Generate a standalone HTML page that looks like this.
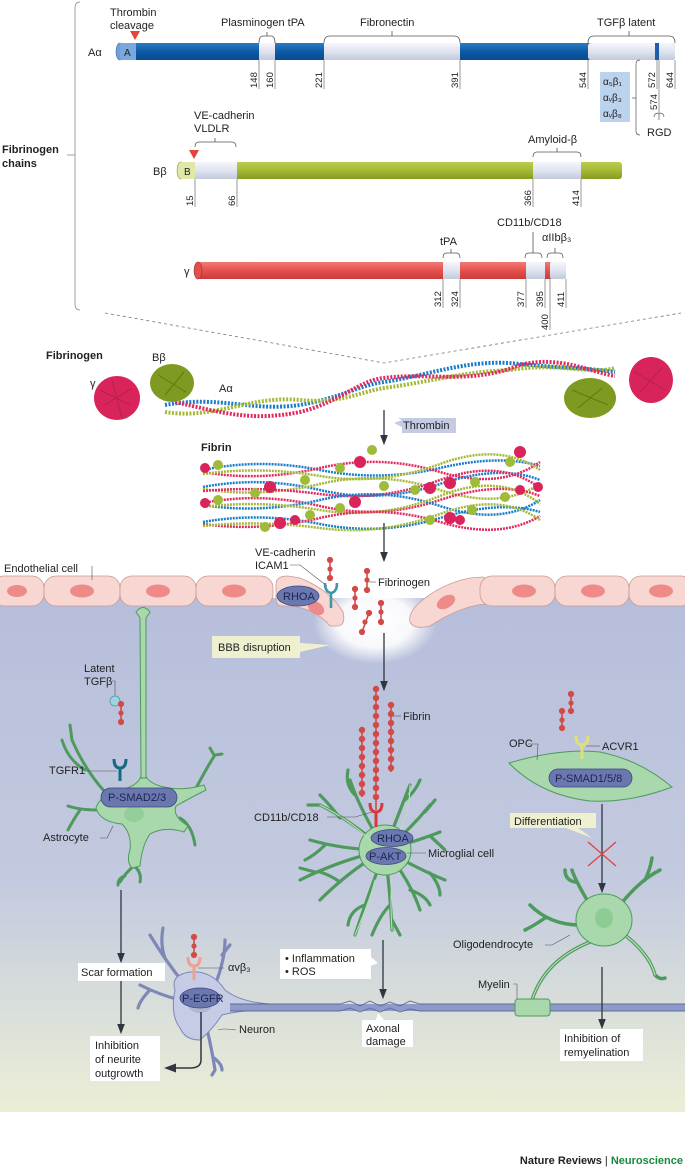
<!DOCTYPE html>
<html><head><meta charset="utf-8"><style>
html,body{margin:0;padding:0;background:#fff}
svg{display:block}
text{font-family:"Liberation Sans",sans-serif;font-size:11px;fill:#222}
.b{font-weight:bold}
.n{font-size:9.5px}
</style></head><body>
<svg width="685" height="1168" viewBox="0 0 685 1168" xmlns="http://www.w3.org/2000/svg">
<defs>
<linearGradient id="bg" x1="0" y1="0" x2="0" y2="1">
<stop offset="0" stop-color="#b6bedb"/><stop offset="0.55" stop-color="#c3cadf"/><stop offset="1" stop-color="#ebefd6"/>
</linearGradient>
<radialGradient id="glow"><stop offset="0" stop-color="#fff"/><stop offset="0.6" stop-color="#fff" stop-opacity="0.9"/><stop offset="1" stop-color="#fff" stop-opacity="0"/></radialGradient>
<linearGradient id="blue" x1="0" y1="0" x2="0" y2="1"><stop offset="0" stop-color="#2a7cc4"/><stop offset="0.5" stop-color="#0d5aa6"/><stop offset="1" stop-color="#0a4a8c"/></linearGradient>
<linearGradient id="grn" x1="0" y1="0" x2="0" y2="1"><stop offset="0" stop-color="#bccd4f"/><stop offset="0.5" stop-color="#a6b834"/><stop offset="1" stop-color="#889a22"/></linearGradient>
<linearGradient id="red" x1="0" y1="0" x2="0" y2="1"><stop offset="0" stop-color="#f07a76"/><stop offset="0.5" stop-color="#e6504d"/><stop offset="1" stop-color="#c83c3a"/></linearGradient>
<linearGradient id="wht" x1="0" y1="0" x2="0" y2="1"><stop offset="0" stop-color="#f4f6fb"/><stop offset="0.5" stop-color="#dfe4f0"/><stop offset="1" stop-color="#c2c9dc"/></linearGradient>
<marker id="ar" markerWidth="8" markerHeight="8" refX="4" refY="4" orient="auto"><path d="M0,1 L8,4 L0,7 Z" fill="#2f3640"/></marker>
</defs>

<!-- big bracket -->
<path d="M80,2 Q75,2 75,8 L75,304 Q75,310 80,310" fill="none" stroke="#888" stroke-width="0.8"/>
<line x1="67" y1="155" x2="75" y2="155" stroke="#888" stroke-width="0.8"/>
<text x="2" y="153" class="b">Fibrinogen</text><text x="2" y="167" class="b">chains</text>

<!-- A alpha -->
<text x="88" y="56">Aα</text>
<text x="110" y="16">Thrombin</text><text x="110" y="29">cleavage</text>
<path d="M130,31 L140,31 L135,40 Z" fill="#e8403a"/>
<rect x="119" y="43" width="556" height="17" rx="3" fill="url(#blue)"/>
<ellipse cx="120" cy="51.5" rx="4" ry="8.5" fill="#6fa0d8" stroke="#3a6aa0" stroke-width="0.6"/>
<rect x="120" y="43" width="16" height="17" fill="#7aa8dc"/>
<text x="124" y="56" style="font-size:10px">A</text>
<rect x="259" y="43" width="16" height="17" fill="url(#wht)"/>
<rect x="324" y="43" width="136" height="17" fill="url(#wht)"/>
<rect x="588" y="43" width="87" height="17" rx="3" fill="url(#wht)"/>
<rect x="655" y="43" width="4" height="17" fill="#1b5fa8"/>
<g fill="none" stroke="#555" stroke-width="0.8">
<path d="M259,43 Q259,36 263,36 L271,36 Q275,36 275,43 M267,36 L267,32"/>
<path d="M324,43 Q324,36 330,36 L454,36 Q460,36 460,43 M392,36 L392,31"/>
<path d="M588,43 Q588,36 594,36 L669,36 Q675,36 675,43 M629,36 L629,31"/>
</g>
<text x="221" y="26">Plasminogen tPA</text>
<text x="360" y="26">Fibronectin</text>
<text x="597" y="26">TGFβ latent</text>
<g stroke="#555" stroke-width="0.6">
<line x1="259" y1="60" x2="259" y2="89"/><line x1="275" y1="60" x2="275" y2="89"/>
<line x1="324" y1="60" x2="324" y2="89"/><line x1="460" y1="60" x2="460" y2="89"/>
<line x1="588" y1="60" x2="588" y2="89"/><line x1="657" y1="60" x2="657" y2="89"/><line x1="675" y1="60" x2="675" y2="89"/>
<line x1="659" y1="60" x2="659" y2="112"/>
</g>
<text transform="translate(257,88) rotate(-90)" class="n">148</text>
<text transform="translate(273,88) rotate(-90)" class="n">160</text>
<text transform="translate(322,88) rotate(-90)" class="n">221</text>
<text transform="translate(458,88) rotate(-90)" class="n">391</text>
<text transform="translate(586,88) rotate(-90)" class="n">544</text>
<text transform="translate(655,88) rotate(-90)" class="n">572</text>
<text transform="translate(673,88) rotate(-90)" class="n">644</text>
<text transform="translate(657,110) rotate(-90)" class="n">574</text>
<rect x="600" y="72" width="30" height="50" fill="#bcd3ee"/>
<text x="603" y="85" style="font-size:10px">α₅β₁</text>
<text x="603" y="101" style="font-size:10px">αᵥβ₃</text>
<text x="603" y="117" style="font-size:10px">αᵥβ₈</text>
<path d="M640,60 Q636,60 636,64 L636,131 Q636,135 640,135 M636,98 L632,98" fill="none" stroke="#555" stroke-width="0.7"/>
<path d="M654,117 Q654,113 659,113 Q664,113 664,117 M659,113 L659,120" fill="none" stroke="#555" stroke-width="0.7"/>
<text x="647" y="136">RGD</text>

<!-- B beta -->
<text x="153" y="175">Bβ</text>
<text x="194" y="119">VE-cadherin</text><text x="194" y="132">VLDLR</text>
<path d="M195,147 Q195,142 199,142 L232,142 Q236,142 236,147 M215,142 L215,138" fill="none" stroke="#555" stroke-width="0.8"/>
<path d="M189,150 L199,150 L194,159 Z" fill="#e8403a"/>
<rect x="180" y="162" width="442" height="17" rx="3" fill="url(#grn)"/>
<ellipse cx="181" cy="170.5" rx="4" ry="8.5" fill="#e2e6a6" stroke="#8a9040" stroke-width="0.6"/>
<rect x="181" y="162" width="14" height="17" fill="#e2e6a6"/>
<text x="184" y="175" style="font-size:10px">B</text>
<rect x="195" y="162" width="42" height="17" fill="url(#wht)"/>
<rect x="533" y="162" width="48" height="17" fill="url(#wht)"/>
<path d="M533,157 Q533,152 537,152 L577,152 Q581,152 581,157 M557,152 L557,148" fill="none" stroke="#555" stroke-width="0.8"/>
<text x="528" y="143">Amyloid-β</text>
<g stroke="#555" stroke-width="0.6">
<line x1="195" y1="179" x2="195" y2="207"/><line x1="237" y1="179" x2="237" y2="207"/>
<line x1="533" y1="179" x2="533" y2="207"/><line x1="581" y1="179" x2="581" y2="207"/>
</g>
<text transform="translate(193,206) rotate(-90)" class="n">15</text>
<text transform="translate(235,206) rotate(-90)" class="n">66</text>
<text transform="translate(531,206) rotate(-90)" class="n">366</text>
<text transform="translate(579,206) rotate(-90)" class="n">414</text>

<!-- gamma -->
<text x="184" y="275">γ</text>
<rect x="197" y="262" width="369" height="17" rx="3" fill="url(#red)"/>
<ellipse cx="198" cy="270.5" rx="4" ry="8.5" fill="#e0504c" stroke="#a03030" stroke-width="0.6"/>
<rect x="443" y="262" width="17" height="17" fill="url(#wht)"/>
<rect x="526" y="262" width="19" height="17" fill="url(#wht)"/>
<rect x="550" y="262" width="16" height="17" rx="2" fill="url(#wht)"/>
<path d="M443,258 Q443,253 447,253 L456,253 Q460,253 460,258 M451,253 L451,249" fill="none" stroke="#555" stroke-width="0.8"/>
<path d="M525,258 Q525,253 529,253 L538,253 Q542,253 542,258 M533,253 L533,232" fill="none" stroke="#555" stroke-width="0.8"/>
<path d="M547,258 Q547,253 551,253 L559,253 Q563,253 563,258 M555,253 L555,248" fill="none" stroke="#555" stroke-width="0.8"/>
<text x="440" y="245">tPA</text>
<text x="497" y="226">CD11b/CD18</text>
<text x="542" y="241">αIIbβ₃</text>
<g stroke="#555" stroke-width="0.6">
<line x1="443" y1="279" x2="443" y2="308"/><line x1="460" y1="279" x2="460" y2="308"/>
<line x1="526" y1="279" x2="526" y2="308"/><line x1="545" y1="279" x2="545" y2="308"/>
<line x1="550" y1="279" x2="550" y2="330"/><line x1="566" y1="279" x2="566" y2="308"/>
</g>
<text transform="translate(441,307) rotate(-90)" class="n">312</text>
<text transform="translate(458,307) rotate(-90)" class="n">324</text>
<text transform="translate(524,307) rotate(-90)" class="n">377</text>
<text transform="translate(543,307) rotate(-90)" class="n">395</text>
<text transform="translate(548,330) rotate(-90)" class="n">400</text>
<text transform="translate(564,307) rotate(-90)" class="n">411</text>

<!-- dashed zoom lines -->
<path d="M105,313 L384,363 L681,313" fill="none" stroke="#777" stroke-width="0.8" stroke-dasharray="3,3"/>

<!-- fibrinogen molecule -->
<text x="46" y="359" class="b">Fibrinogen</text>
<text x="152" y="361">Bβ</text>
<text x="90" y="387">γ</text>
<text x="219" y="392">Aα</text>
<g fill="none" stroke-width="4" stroke-dasharray="2,1.5">
<path d="M165,405 C220,395 250,412 300,405 C340,398 360,385 384,382 C430,375 470,358 520,364 C560,368 590,368 615,372" stroke="#1a7cc9"/>
<path d="M165,412 C215,420 250,395 300,400 C340,404 360,392 384,388 C430,382 460,372 510,370 C560,362 590,375 615,368" stroke="#a4b836"/>
<path d="M175,402 C220,412 250,422 300,412 C340,402 360,380 384,378 C430,372 470,385 520,365 C560,355 590,372 615,376" stroke="#e0295f"/>
</g>
<g fill="#d8245a"><ellipse cx="117" cy="398" rx="23" ry="22"/><ellipse cx="651" cy="380" rx="22" ry="23"/></g>
<g fill="#7e9a20"><ellipse cx="172" cy="383" rx="22" ry="19"/><ellipse cx="590" cy="398" rx="26" ry="20"/></g>
<g fill="none" stroke="#b92048" stroke-width="1"><path d="M100,390 L130,405 M105,405 L132,388 M112,380 L122,418"/><path d="M635,372 L665,390 M640,392 L662,368"/></g>
<g fill="none" stroke="#5f7a12" stroke-width="1"><path d="M158,375 L186,392 M165,395 L184,372"/><path d="M572,390 L608,405 M578,408 L602,388"/></g>

<!-- thrombin arrow -->
<line x1="384" y1="410" x2="384" y2="440" stroke="#2f3640" stroke-width="1.3" marker-end="url(#ar)"/>
<path d="M398,418 L456,418 L456,433 L402,433 L402,427 L394,423 L402,420 Z" fill="#c4cbe3"/>
<text x="403" y="429">Thrombin</text>

<!-- fibrin -->
<text x="201" y="451" class="b">Fibrin</text>
<g fill="none" stroke-width="2.5" stroke-dasharray="2,1">
<path d="M203,470 Q260,458 320,470 T440,468 T540,466" stroke="#1a7cc9"/>
<path d="M203,472 Q260,482 320,468 T440,472 T540,462" stroke="#e0295f"/>
<path d="M203,474 Q260,466 320,476 T440,464 T540,470" stroke="#a4b836"/>
<path d="M203,487 Q260,476 320,490 T440,484 T540,480" stroke="#1a7cc9"/>
<path d="M203,489 Q260,498 320,484 T440,490 T540,484" stroke="#a4b836"/>
<path d="M203,491 Q260,486 320,494 T440,480 T540,488" stroke="#e0295f"/>
<path d="M203,503 Q260,492 320,506 T440,500 T540,496" stroke="#e0295f"/>
<path d="M203,505 Q260,514 320,500 T440,506 T540,500" stroke="#1a7cc9"/>
<path d="M203,507 Q260,500 320,510 T440,496 T540,504" stroke="#a4b836"/>
<path d="M203,522 Q260,512 320,524 T440,518 T540,512" stroke="#1a7cc9"/>
<path d="M203,524 Q260,532 320,518 T440,522 T540,516" stroke="#e0295f"/>
<path d="M203,526 Q260,520 320,528 T440,514 T540,520" stroke="#a4b836"/>
</g>
<g fill="#d8245a">
<circle cx="205" cy="468" r="5"/><circle cx="360" cy="462" r="6"/><circle cx="520" cy="452" r="6"/>
<circle cx="270" cy="487" r="6"/><circle cx="430" cy="488" r="6"/><circle cx="450" cy="483" r="6"/><circle cx="538" cy="487" r="5"/>
<circle cx="205" cy="503" r="5"/><circle cx="355" cy="502" r="6"/><circle cx="520" cy="490" r="5"/>
<circle cx="280" cy="523" r="6"/><circle cx="295" cy="520" r="5"/><circle cx="450" cy="518" r="6"/><circle cx="460" cy="520" r="5"/>
</g>
<g fill="#9fbb3a">
<circle cx="218" cy="465" r="5"/><circle cx="340" cy="468" r="5"/><circle cx="372" cy="450" r="5"/><circle cx="510" cy="462" r="5"/>
<circle cx="255" cy="493" r="5"/><circle cx="305" cy="480" r="5"/><circle cx="415" cy="490" r="5"/><circle cx="475" cy="482" r="5"/>
<circle cx="218" cy="500" r="5"/><circle cx="340" cy="508" r="5"/><circle cx="384" cy="486" r="5"/><circle cx="505" cy="497" r="5"/>
<circle cx="265" cy="527" r="5"/><circle cx="310" cy="515" r="5"/><circle cx="430" cy="520" r="5"/><circle cx="472" cy="510" r="5"/>
</g>
<line x1="384" y1="523" x2="384" y2="557" stroke="#2f3640" stroke-width="1.3" marker-end="url(#ar)"/>

<!-- tissue background -->
<rect x="0" y="598" width="685" height="514" fill="url(#bg)"/>
<ellipse cx="375" cy="622" rx="62" ry="42" fill="url(#glow)"/>

<!-- endothelial cells -->
<g fill="#f8d6d1" stroke="#c79a96" stroke-width="0.8">
<rect x="-8" y="576" width="52" height="30" rx="12"/>
<rect x="44" y="576" width="76" height="30" rx="12"/>
<rect x="120" y="576" width="76" height="30" rx="12"/>
<rect x="196" y="576" width="77" height="30" rx="12"/>
<path d="M276,584 Q276,576 288,576 L300,578 Q330,590 343,612 Q346,625 338,626 L330,626 Q315,608 290,606 L282,606 Q276,606 276,598 Z"/>
<path d="M410,622 Q408,614 418,604 Q440,584 470,578 L483,577 Q488,580 487,592 L486,604 Q460,606 430,626 Q414,630 410,622 Z"/>
<rect x="480" y="576" width="75" height="30" rx="12"/>
<rect x="555" y="576" width="74" height="30" rx="12"/>
<rect x="629" y="576" width="64" height="30" rx="12"/>
</g>
<g fill="#ee8b88">
<ellipse cx="17" cy="591" rx="10" ry="6"/><ellipse cx="82" cy="591" rx="12" ry="6.5"/><ellipse cx="158" cy="591" rx="12" ry="6.5"/><ellipse cx="234" cy="591" rx="12" ry="6.5"/>
<ellipse cx="316" cy="608" rx="9" ry="6" transform="rotate(35 316 608)"/><ellipse cx="446" cy="602" rx="10" ry="6" transform="rotate(-30 446 602)"/>
<ellipse cx="524" cy="591" rx="12" ry="6.5"/><ellipse cx="593" cy="591" rx="12" ry="6.5"/><ellipse cx="661" cy="591" rx="12" ry="6.5"/>
</g>
<text x="4" y="572">Endothelial cell</text>
<line x1="92" y1="566" x2="92" y2="580" stroke="#555" stroke-width="0.6"/>
<ellipse cx="298" cy="596" rx="21" ry="10" fill="#6b78b0" stroke="#3d4880" stroke-width="0.8"/>
<text x="283" y="600" style="fill:#1d2450">RHOA</text>
<text x="255" y="556">VE-cadherin</text><text x="255" y="569">ICAM1</text>
<path d="M290,565 L300,565 L327,586" fill="none" stroke="#555" stroke-width="0.6"/>
<path d="M331,608 L331,593 M325,583 Q325,592 331,593 Q337,592 337,583" fill="none" stroke="#3e96aa" stroke-width="2.6"/>
<g stroke="#d24a48" stroke-width="1.6" fill="#d24a48">
<line x1="330" y1="560" x2="330" y2="578"/><circle cx="330" cy="560" r="2.3"/><circle cx="330" cy="569" r="1.8"/><circle cx="330" cy="578" r="2.3"/>
<line x1="367" y1="571" x2="367" y2="590"/><circle cx="367" cy="571" r="2.3"/><circle cx="367" cy="580" r="1.8"/><circle cx="367" cy="590" r="2.3"/>
<line x1="355" y1="589" x2="355" y2="607"/><circle cx="355" cy="589" r="2.3"/><circle cx="355" cy="598" r="1.8"/><circle cx="355" cy="607" r="2.3"/>
<line x1="381" y1="603" x2="381" y2="622"/><circle cx="381" cy="603" r="2.3"/><circle cx="381" cy="612" r="1.8"/><circle cx="381" cy="622" r="2.3"/>
<line x1="369" y1="613" x2="362" y2="632"/><circle cx="369" cy="613" r="2.3"/><circle cx="365" cy="622" r="1.8"/><circle cx="362" cy="632" r="2.3"/>
</g>
<path d="M369,582 L376,582" stroke="#555" stroke-width="0.6"/>
<text x="378" y="586">Fibrinogen</text>
<path d="M212,636 L300,636 L300,643 L330,645 L300,652 L300,658 L212,658 Z" fill="#eef0cf"/>
<text x="218" y="651">BBB disruption</text>
<line x1="384" y1="633" x2="384" y2="686" stroke="#2f3640" stroke-width="1.3" marker-end="url(#ar)"/>

<!-- astrocyte -->
<g fill="none" stroke="#4e9a5c" stroke-width="3" stroke-linecap="round">
<path d="M105,792 Q85,770 72,740 M85,770 Q68,760 62,740 M72,740 L70,725"/>
<path d="M195,790 Q210,762 215,755 L222,754 M214,755 L210,748"/>
<path d="M180,818 Q192,825 195,845"/>
<path d="M98,810 Q80,810 68,806 M80,810 Q72,822 68,830"/>
<path d="M134,866 Q126,872 120,882 M134,866 Q142,872 140,882 M125,876 Q118,878 118,885"/>
</g>
<path d="M141,776 Q138,786 120,790 Q100,795 96,808 Q100,822 122,824 Q132,834 130,850 Q126,862 132,868 L140,866 Q142,845 150,834 Q165,826 184,832 L188,826 Q172,816 176,806 Q190,798 206,790 L204,785 Q180,792 160,786 Q148,782 146,776 Z" fill="#a8d8ab" stroke="#4e9a5c" stroke-width="1"/>
<path d="M136,612 Q143,603 150,612 L146,618 L146,778 L141,778 L140,618 Z" fill="#a8d8ab" stroke="#4e9a5c" stroke-width="1"/>
<ellipse cx="134" cy="814" rx="10" ry="8" fill="#8fcc95" opacity="0.8"/>
<rect x="101" y="788" width="76" height="19" rx="9.5" fill="#6b78b0" stroke="#3d4880" stroke-width="0.8"/>
<text x="108" y="801" style="fill:#1d2450">P-SMAD2/3</text>
<path d="M120,781 L120,768 M114,759 Q114,768 120,768 Q126,768 126,759" fill="none" stroke="#156a80" stroke-width="3"/>
<line x1="87" y1="771" x2="117" y2="771" stroke="#555" stroke-width="0.6"/>
<text x="49" y="774">TGFR1</text>
<text x="84" y="672">Latent</text><text x="84" y="685">TGFβ</text>
<path d="M112,681 L115,681 L115,697" fill="none" stroke="#555" stroke-width="0.6"/>
<circle cx="115" cy="701" r="5" fill="#9fd3e0" stroke="#4a9ab0" stroke-width="0.8"/>
<g stroke="#d24a48" stroke-width="1.6" fill="#d24a48"><line x1="121" y1="704" x2="121" y2="722"/><circle cx="121" cy="704" r="2.3"/><circle cx="121" cy="713" r="1.8"/><circle cx="121" cy="722" r="2.3"/></g>
<text x="43" y="841">Astrocyte</text>
<path d="M100,838 L107,838 L113,826" fill="none" stroke="#555" stroke-width="0.6"/>
<line x1="121" y1="890" x2="121" y2="958" stroke="#2f3640" stroke-width="1.3" marker-end="url(#ar)"/>
<rect x="78" y="963" width="87" height="18" fill="#fff"/>
<text x="81" y="976">Scar formation</text>
<line x1="121" y1="981" x2="121" y2="1029" stroke="#2f3640" stroke-width="1.3" marker-end="url(#ar)"/>
<rect x="90" y="1036" width="70" height="45" fill="#fff"/>
<text x="95" y="1049">Inhibition</text><text x="95" y="1063">of neurite</text><text x="95" y="1077">outgrowth</text>

<!-- microglia -->
<g fill="none" stroke="#4e9a5c" stroke-width="3.2" stroke-linecap="round">
<path d="M385,850 Q350,820 320,805 M340,818 Q330,805 320,795 M320,805 L308,805"/>
<path d="M385,850 Q360,810 350,780 M355,795 Q345,785 348,770"/>
<path d="M385,850 Q400,810 410,785 M405,800 Q415,792 420,780"/>
<path d="M385,850 Q410,830 430,805 M425,812 L435,800"/>
<path d="M385,850 Q420,840 440,832 M430,836 Q440,845 445,850"/>
<path d="M385,850 Q420,870 445,880 M430,873 Q440,885 440,895"/>
<path d="M385,850 Q410,880 420,910 M410,890 Q425,895 430,905"/>
<path d="M385,850 Q390,890 392,930 M390,905 Q380,915 372,935 M392,920 L400,935"/>
<path d="M385,850 Q370,890 355,935 M365,905 Q350,910 348,925"/>
<path d="M385,850 Q350,870 320,900 M340,882 Q330,875 320,872"/>
<path d="M385,850 Q345,850 310,840 M325,845 Q315,855 305,860"/>
<path d="M385,850 Q340,860 300,880 M315,872 L300,868"/>
</g>
<ellipse cx="385" cy="850" rx="26" ry="25" fill="#a8d8ab" stroke="#4e9a5c" stroke-width="1"/>
<g fill="none" stroke="#b7e0b8" stroke-width="1.1" stroke-linecap="round">
<path d="M370,840 Q350,820 320,805"/><path d="M392,880 Q390,900 392,930"/><path d="M375,880 Q370,900 355,935"/><path d="M400,830 Q410,810 410,785"/>
</g>
<g stroke="#d24a48" stroke-width="1.6" fill="#d24a48">
<line x1="362" y1="730" x2="362" y2="797"/>
<circle cx="362" cy="730" r="2.4"/><circle cx="362" cy="739" r="2.4"/><circle cx="362" cy="748" r="2.4"/><circle cx="362" cy="757" r="2.4"/><circle cx="362" cy="766" r="2.4"/><circle cx="362" cy="775" r="2.4"/><circle cx="362" cy="784" r="2.4"/><circle cx="362" cy="793" r="2.4"/>
<line x1="376" y1="689" x2="376" y2="810"/>
<circle cx="376" cy="689" r="2.4"/><circle cx="376" cy="698" r="2.4"/><circle cx="376" cy="707" r="2.4"/><circle cx="376" cy="716" r="2.4"/><circle cx="376" cy="725" r="2.4"/><circle cx="376" cy="734" r="2.4"/><circle cx="376" cy="743" r="2.4"/><circle cx="376" cy="752" r="2.4"/><circle cx="376" cy="761" r="2.4"/><circle cx="376" cy="770" r="2.4"/><circle cx="376" cy="779" r="2.4"/><circle cx="376" cy="788" r="2.4"/><circle cx="376" cy="797" r="2.4"/>
<line x1="391" y1="705" x2="391" y2="772"/>
<circle cx="391" cy="705" r="2.4"/><circle cx="391" cy="714" r="2.4"/><circle cx="391" cy="723" r="2.4"/><circle cx="391" cy="732" r="2.4"/><circle cx="391" cy="741" r="2.4"/><circle cx="391" cy="750" r="2.4"/><circle cx="391" cy="759" r="2.4"/><circle cx="391" cy="768" r="2.4"/>
</g>
<path d="M393,716 L401,716" stroke="#555" stroke-width="0.6"/>
<text x="403" y="720">Fibrin</text>
<path d="M376,827 L376,812 M370,803 Q370,812 376,812 Q382,812 382,803" fill="none" stroke="#d43a3a" stroke-width="3"/>
<text x="254" y="821">CD11b/CD18</text>
<path d="M327,817 L355,817 L372,812" fill="none" stroke="#555" stroke-width="0.6"/>
<ellipse cx="392" cy="838" rx="21" ry="8.5" fill="#6b78b0" stroke="#3d4880" stroke-width="0.8"/>
<text x="377" y="842" style="fill:#1d2450">RHOA</text>
<ellipse cx="386" cy="856" rx="20" ry="8.5" fill="#6b78b0" stroke="#3d4880" stroke-width="0.8"/>
<text x="369" y="860" style="fill:#1d2450">P-AKT</text>
<line x1="407" y1="853" x2="426" y2="853" stroke="#555" stroke-width="0.6"/>
<text x="428" y="857">Microglial cell</text>
<line x1="383" y1="940" x2="383" y2="994" stroke="#2f3640" stroke-width="1.3" marker-end="url(#ar)"/>
<path d="M280,949 L371,949 L371,957 L378,963 L371,966 L371,979 L280,979 Z" fill="#fff"/>
<text x="285" y="962">• Inflammation</text><text x="285" y="975">• ROS</text>

<!-- neuron -->
<g fill="none" stroke="#7d88b8" stroke-width="3.2" stroke-linecap="round">
<path d="M185,985 Q165,960 150,935 M165,958 Q160,945 163,928"/>
<path d="M215,985 Q225,960 225,940 M222,955 L230,945"/>
<path d="M180,1000 Q160,995 140,985 M150,990 Q140,1000 138,1008"/>
<path d="M205,1020 Q212,1050 215,1070 M214,1058 Q222,1064 222,1070 M215,1070 L212,1075"/>
</g>
<path d="M175,990 Q170,975 190,972 Q212,970 225,990 Q240,1002 270,1004 L270,1010 Q240,1010 222,1015 Q212,1030 200,1040 Q185,1040 180,1028 Q170,1015 175,990 Z" fill="#c6cbe6" stroke="#7d88b8" stroke-width="1"/>
<rect x="230" y="1004" width="455" height="7" fill="#8f9ac8"/>
<path d="M230,1004 L340,1004 L350,1001 L360,1006 L370,1001 L380,1006 L390,1002 L400,1006 L410,1001 L420,1004 L685,1004" fill="none" stroke="#5c6a9c" stroke-width="0.9"/>
<path d="M230,1011 L340,1011 L350,1008 L360,1012 L370,1008 L380,1012 L390,1008 L400,1012 L410,1009 L420,1011 L685,1011" fill="none" stroke="#5c6a9c" stroke-width="0.9"/>
<ellipse cx="200" cy="1005" rx="12" ry="8" fill="#a8aec8" opacity="0.7"/>
<ellipse cx="200" cy="998" rx="20" ry="10" fill="#6b78b0" stroke="#3d4880" stroke-width="0.8"/>
<text x="182" y="1002" style="fill:#1d2450">P-EGFR</text>
<path d="M194,980 L194,966 M188,957 Q188,966 194,966 Q200,966 200,957" fill="none" stroke="#f0a090" stroke-width="3"/>
<g stroke="#d24a48" stroke-width="1.6" fill="#d24a48"><line x1="194" y1="937" x2="194" y2="955"/><circle cx="194" cy="937" r="2.3"/><circle cx="194" cy="946" r="1.8"/><circle cx="194" cy="955" r="2.3"/></g>
<line x1="198" y1="968" x2="224" y2="968" stroke="#555" stroke-width="0.6"/>
<text x="228" y="971">αvβ₃</text>
<path d="M201,1012 L201,1060 Q201,1068 190,1068 L170,1068" fill="none" stroke="#2f3640" stroke-width="1.5" marker-end="url(#ar)"/>
<path d="M218,1030 Q222,1028 236,1030" fill="none" stroke="#555" stroke-width="0.6"/>
<text x="239" y="1033">Neuron</text>
<path d="M362,1020 L376,1020 L378,1013 L384,1020 L413,1020 L413,1047 L362,1047 Z" fill="#fff"/>
<text x="366" y="1032">Axonal</text><text x="366" y="1045">damage</text>

<!-- OPC -->
<g stroke="#d24a48" stroke-width="1.6" fill="#d24a48">
<line x1="571" y1="694" x2="571" y2="711"/><circle cx="571" cy="694" r="2.3"/><circle cx="571" cy="703" r="1.8"/><circle cx="571" cy="711" r="2.3"/>
<line x1="562" y1="711" x2="562" y2="728"/><circle cx="562" cy="711" r="2.3"/><circle cx="562" cy="720" r="1.8"/><circle cx="562" cy="728" r="2.3"/>
</g>
<path d="M509,763 Q560,748 600,752 Q640,760 672,787 Q630,803 590,801 Q540,795 509,763 Z" fill="#a8d8ab" stroke="#4e9a5c" stroke-width="1"/>
<path d="M582,759 L582,745 M576,736 Q576,745 582,745 Q588,745 588,736" fill="none" stroke="#e0e07a" stroke-width="3"/>
<line x1="586" y1="746" x2="600" y2="746" stroke="#555" stroke-width="0.6"/>
<text x="602" y="750">ACVR1</text>
<text x="509" y="747">OPC</text>
<path d="M528,744 L538,744 L537,760" fill="none" stroke="#555" stroke-width="0.6"/>
<rect x="549" y="769" width="83" height="18" rx="9" fill="#6b78b0" stroke="#3d4880" stroke-width="0.8"/>
<text x="555" y="782" style="fill:#1d2450">P-SMAD1/5/8</text>
<line x1="602" y1="804" x2="602" y2="888" stroke="#2f3640" stroke-width="1.3" marker-end="url(#ar)"/>
<path d="M510,813 L596,813 L596,828 L578,828 L592,838 L566,828 L510,828 Z" fill="#eef0cf"/>
<text x="514" y="825">Differentiation</text>
<path d="M588,842 L616,866 M616,842 L588,866" stroke="#e4434a" stroke-width="1.4"/>

<!-- oligodendrocyte -->
<g fill="none" stroke="#4e9a5c" stroke-width="3.5" stroke-linecap="round">
<path d="M590,905 Q575,880 572,870 M575,882 Q565,880 565,870"/>
<path d="M620,905 Q640,880 660,870 M645,880 Q650,870 652,858"/>
<path d="M580,925 Q550,925 530,905 M545,918 Q535,925 525,930"/>
<path d="M625,935 Q650,955 655,975 Q660,980 665,978"/>
<path d="M590,942 Q545,960 532,1000"/>
</g>
<g fill="none" stroke="#b7e0b8" stroke-width="1.2" stroke-linecap="round"><path d="M590,942 Q545,960 532,1000"/><path d="M625,935 Q650,955 655,975"/></g>
<ellipse cx="604" cy="920" rx="28" ry="26" fill="#a8d8ab" stroke="#4e9a5c" stroke-width="1"/>
<ellipse cx="604" cy="918" rx="9" ry="10" fill="#8fcc95"/>
<rect x="515" y="999" width="35" height="17" rx="3" fill="#a8d8ab" stroke="#4e9a5c" stroke-width="1"/>
<text x="453" y="948">Oligodendrocyte</text>
<path d="M545,945 L552,945 L570,935" fill="none" stroke="#555" stroke-width="0.6"/>
<text x="478" y="988">Myelin</text>
<path d="M513,984 L517,984 L517,999" fill="none" stroke="#555" stroke-width="0.6"/>
<line x1="602" y1="967" x2="602" y2="1024" stroke="#2f3640" stroke-width="1.3" marker-end="url(#ar)"/>
<rect x="560" y="1029" width="83" height="32" fill="#fff"/>
<text x="564" y="1042">Inhibition of</text><text x="564" y="1056">remyelination</text>

<!-- footer -->
<text x="683" y="1164" text-anchor="end" class="b" style="font-size:11px"><tspan>Nature Reviews</tspan><tspan style="font-weight:normal"> | </tspan><tspan style="fill:#168a3c">Neuroscience</tspan></text>
</svg>
</body></html>
